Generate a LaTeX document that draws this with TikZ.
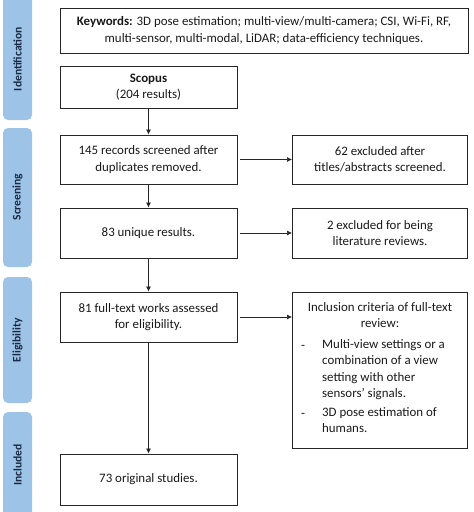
\documentclass[tikz,border=0pt]{standalone}
\usepackage{fontspec}
\setmainfont{Carlito}
\usetikzlibrary{arrows.meta}
\definecolor{barblue}{HTML}{9DC3E6}
\definecolor{bartext}{HTML}{1A2A44}
\definecolor{linegray}{HTML}{262626}
\begin{document}
\begin{tikzpicture}[x=1pt,y=-1pt,
  box/.style={draw=linegray,line width=1pt,minimum width=177pt,align=center,inner sep=2pt,font=\fontsize{12.9}{16.5}\selectfont,text=black!90},
  sidebar/.style={fill=barblue,rounded corners=5pt},
  bartxt/.style={rotate=90,font=\fontsize{11.6}{12}\selectfont\bfseries,text=bartext},
  arr/.style={draw=linegray,line width=0.6pt,-{Latex[length=5pt,width=5pt]}},
  txt/.style={font=\fontsize{12.9}{16.5}\selectfont,text=black!90,inner sep=0pt}]
\useasboundingbox (0,0) rectangle (474,512);
% side bars
\fill[sidebar] (3,-10) rectangle (32,120);
\node[bartxt] (lid) at (17.5,59) {Identification};
\fill[sidebar] (3,128) rectangle (32,267);
\node[bartxt] (lsc) at (17.5,197) {Screening};
\fill[sidebar] (3,277) rectangle (32,403);
\node[bartxt] (lel) at (17.5,340) {Eligibility};
\fill[sidebar] (3,412) rectangle (32,522);
\node[bartxt] (lin) at (17.5,465) {Included};
% boxes
\node[box,minimum width=408pt,minimum height=45pt] (kw) at (264,30.5)
  {\textbf{Keywords:} 3D pose estimation; multi-view/multi-camera; CSI, Wi-Fi, RF,\\multi-sensor, multi-modal, LiDAR; data-efficiency techniques.};
\node[box,minimum height=42pt] (sc) at (148.5,87) {\textbf{Scopus}\\(204 results)};
\node[box,minimum height=49pt] (s145) at (148.5,159.5) {145 records screened after\\duplicates removed.};
\node[box,minimum width=175pt,minimum height=49pt] (e62) at (380,159.5) {62 excluded after\\titles/abstracts screened.};
\node[box,minimum height=50pt] (u83) at (148.5,233) {83 unique results.};
\node[box,minimum width=175pt,minimum height=50pt] (e2) at (380,233) {2 excluded for being\\literature reviews.};
\node[box,minimum height=50pt] (f81) at (148.5,317) {81 full-text works assessed\\for eligibility.};
\node[box,minimum width=175pt,minimum height=156pt] (inc) at (380,370) {};
\node[box,minimum height=51pt] (o73) at (148.5,479.5) {73 original studies.};
% inclusion text
\node[txt,align=center] (inchead) at (380,315) {Inclusion criteria of full-text\\review:};
\node[txt] (d1) at (303,347) {-};
\node[txt,anchor=north west,align=left] (b1) at (322,339) {Multi-view settings or a\\combination of a view\\setting with other\\sensors’ signals.};
\node[txt] (d2) at (303,415) {-};
\node[txt,anchor=north west,align=left] (b2) at (322,407) {3D pose estimation of\\humans.};
% arrows
\draw[arr] (sc) -- (s145);
\draw[arr] (s145) -- (u83);
\draw[arr] (u83) -- (f81);
\draw[arr] (f81) -- (o73);
\draw[arr] ([xshift=2pt]s145.east) -- (e62.west);
\draw[arr] ([xshift=2pt]u83.east) -- (e2.west);
\draw[arr] ([xshift=2pt]f81.east) -- (f81.east -| inc.west);
\end{tikzpicture}
\end{document}
